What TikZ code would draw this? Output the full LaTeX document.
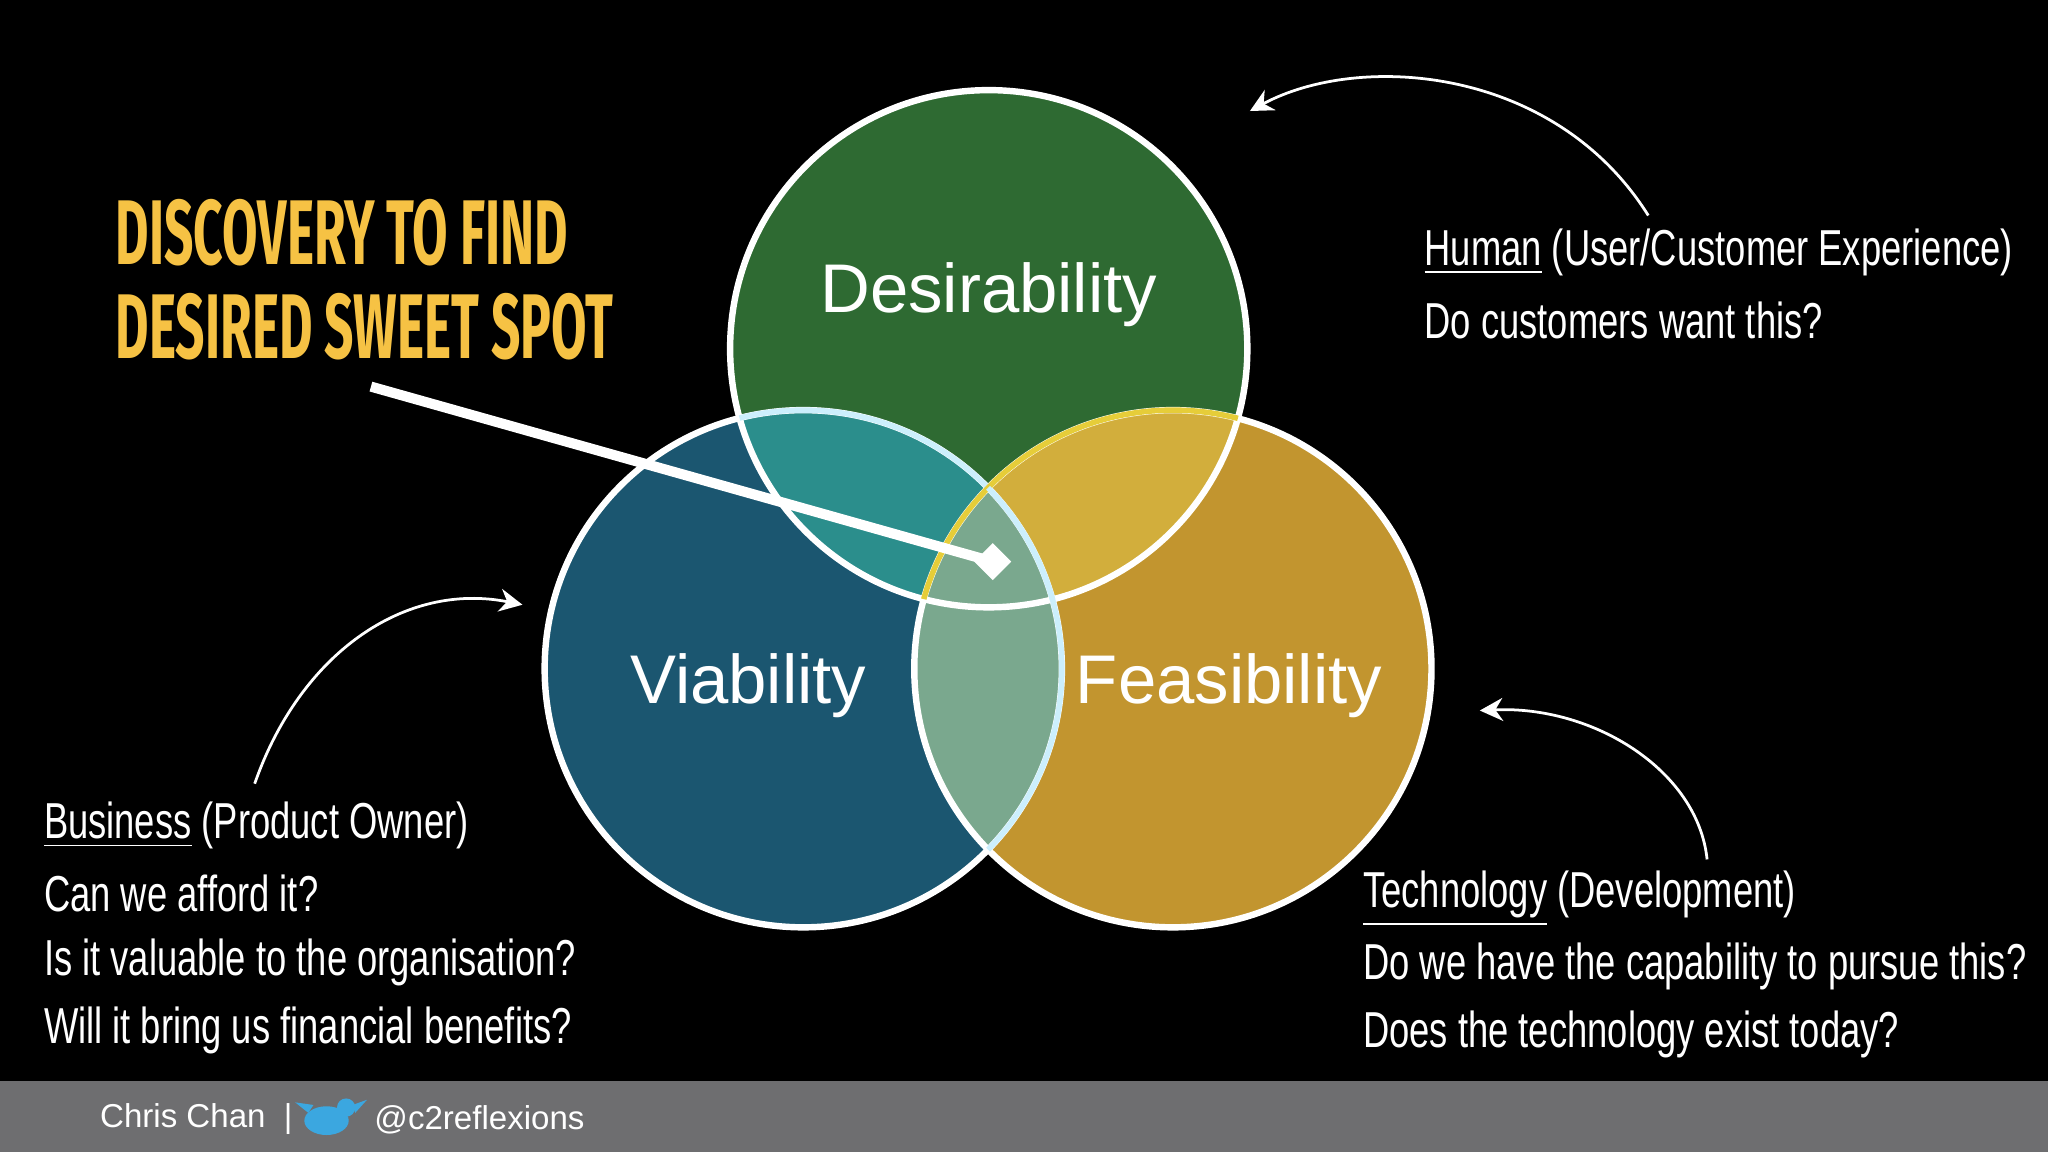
\documentclass[tikz,border=0pt]{standalone}
\usepackage{fontspec}
\setmainfont{Liberation Sans}
\newfontfamily\titlefont{Fira Sans}
\usetikzlibrary{arrows.meta,calc}
\definecolor{dgreen}{HTML}{2E6A32}
\definecolor{vblue}{HTML}{1B5670}
\definecolor{fgold}{HTML}{C2952F}
\definecolor{dv}{HTML}{2B8E8C}
\definecolor{df}{HTML}{D2AE3C}
\definecolor{vf}{HTML}{7AA88E}
\definecolor{ttl}{HTML}{F6C244}
\definecolor{barg}{HTML}{6E6E70}
\definecolor{bird}{HTML}{3BA7E0}
\newcommand{\hw}[1]{{\fontsize{11}{13}\selectfont\scalebox{0.72}[1]{#1}}}
\begin{document}
\begin{tikzpicture}[x=0.01cm,y=-0.01cm,
  lbl/.style={text=white,font=\fontsize{15}{18}\selectfont},
  hwt/.style={text=white,anchor=west,inner sep=0},
  curv/.style={white,line width=0.6pt,-{Stealth[length=5pt,width=5pt]}}]
\fill[black] (0,0) rectangle (1568,882);
\useasboundingbox (0,0) rectangle (1568,882);
% circles
\coordinate (cd) at (757,267);
\coordinate (cv) at (615,512);
\coordinate (cf) at (898,512);
\fill[vblue] (cv) circle (198);
\fill[fgold] (cf) circle (198);
\fill[dgreen] (cd) circle (198);
\begin{scope}\clip (cd) circle (198); \fill[dv] (cv) circle (198); \fill[df] (cf) circle (198);\end{scope}
\begin{scope}\clip (cv) circle (198); \fill[vf] (cf) circle (198);\end{scope}
\draw[white,line width=1.4pt] (cv) circle (198) (cf) circle (198) (cd) circle (198);
\begin{scope}\clip (cd) circle (198); \draw[cyan!20!white,line width=1.2pt] (cv) circle (198); \draw[yellow!40!df,line width=1.2pt] (cf) circle (198);\end{scope}
\begin{scope}\clip (cf) circle (198); \draw[cyan!20!white,line width=1.2pt] (cv) circle (198);\end{scope}
\node[lbl] (nd) at (757,226) {Desirability};
\node[lbl] (nv) at (573,525) {Viability};
\node[lbl] (nf) at (941,525) {Feasibility};
% title
\node[text=ttl,anchor=west,inner sep=0] (t1) at (88,178) {\titlefont\bfseries\fontsize{20}{22}\selectfont\scalebox{0.56}[1]{DISCOVERY TO FIND}};
\node[text=ttl,anchor=west,inner sep=0] (t2) at (88,250) {\titlefont\bfseries\fontsize{20}{22}\selectfont\scalebox{0.56}[1]{DESIRED SWEET SPOT}};
\coordinate (ps) at (284,296);
\coordinate (pe) at (760,430);
\draw[white,line width=2.2pt] (ps) -- (pe);
\fill[white,rotate around={45:(pe)}] ($(pe)+(-10,-10)$) rectangle ($(pe)+(10,10)$);
% annotations
\node[hwt] (h1) at (1090,193) {\hw{\underline{Human} (User/Customer Experience)}};
\node[hwt] (h2) at (1090,245) {\hw{Do customers want this?}};
\node[hwt] (b1) at (33,632) {\hw{\underline{Business} (Product Owner)}};
\node[hwt] (b2) at (33,684) {\hw{Can we afford it?}};
\node[hwt] (b3) at (33,737) {\hw{Is it valuable to the organisation?}};
\node[hwt] (b4) at (33,789) {\hw{Will it bring us financial benefits?}};
\node[hwt] (q1) at (1043,688) {\hw{\underline{Technology} (Development)}};
\node[hwt] (q2) at (1043,740) {\hw{Do we have the capability to pursue this?}};
\node[hwt] (q3) at (1043,792) {\hw{Does the technology exist today?}};
\coordinate (ha) at (1262,165); \coordinate (hb) at (957,85);
\coordinate (ba) at (195,600); \coordinate (bb) at (400,463);
\coordinate (ta) at (1307,658); \coordinate (tb) at (1133,544);
\draw[curv] (ha) .. controls (1190,50) and (1040,40) .. (hb);
\draw[curv] (ba) .. controls (230,500) and (310,445) .. (bb);
\draw[curv] (ta) .. controls (1300,590) and (1220,540) .. (tb);
% bottom bar
\fill[barg] (0,828) rectangle (1568,882);
\node[text=white,anchor=west,inner sep=0,font=\fontsize{7.2}{9}\selectfont] (cc) at (76,857) {Chris Chan \ |};
\fill[bird] (250,858) ellipse (17 and 11);
\fill[bird] (265,848) circle (7);
\fill[bird] (270,846) -- (281,842) -- (272,852) -- cycle;
\fill[bird] (236,852) -- (226,844) -- (240,846) -- cycle;
\node[text=white,anchor=west,inner sep=0,font=\fontsize{7.2}{9}\selectfont] (tw) at (286,857) {@c2reflexions};
\end{tikzpicture}
\end{document}
